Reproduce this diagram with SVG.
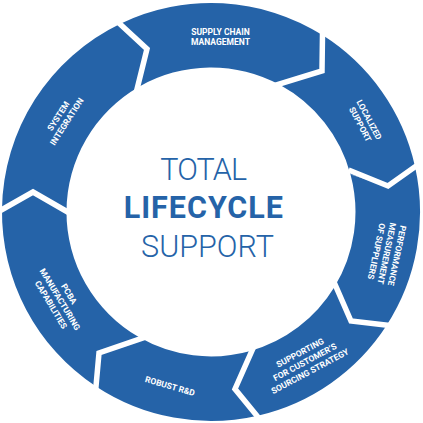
<svg xmlns="http://www.w3.org/2000/svg" width="423" height="423" viewBox="0 0 423 423">
<style>
.seg{fill:#2563a8;}
.div{fill:none;stroke:#ffffff;stroke-width:5.5;stroke-linejoin:miter;stroke-miterlimit:10;}
.lbl{font-family:Roboto,"Liberation Sans",sans-serif;font-weight:700;font-size:8.5px;fill:#ffffff;text-anchor:middle;}
.big{font-family:Roboto,"Liberation Sans",sans-serif;font-size:30.5px;fill:#2563a8;text-anchor:middle;}
</style>
<rect width="423" height="423" fill="#ffffff"/>
<g id="supply-chain">
<path class="seg" d="M120.4,23.7 A209,209 0 0 1 322.4,35.1 L322,71 L280.2,85.1 A144.5,144.5 0 0 0 139,86.7 L147,49 Z"/>
<text class="lbl" transform="translate(220.5,37)"><tspan x="0" y="-2">SUPPLY CHAIN</tspan><tspan x="0" y="8">MANAGEMENT</tspan></text>
</g>
<g id="localized-support">
<path class="seg" d="M322.4,35.1 A209,209 0 0 1 415,166.4 L388,186 L350.5,174.4 A144.5,144.5 0 0 0 280.2,85.1 L322,71 Z"/>
<text class="lbl" transform="translate(364.7,122) rotate(62)"><tspan x="0" y="-2">LOCALIZED</tspan><tspan x="0" y="8">SUPPORT</tspan></text>
</g>
<g id="performance">
<path class="seg" d="M415,166.4 A209,209 0 0 1 386.5,325.5 L351,321 L334.3,287.3 A144.5,144.5 0 0 0 350.5,174.4 L388,186 Z"/>
<text class="lbl" transform="translate(386.8,253.5) rotate(102)"><tspan x="0" y="-7.5">PERFORMANCE</tspan><tspan x="0" y="3">MEASUREMENT</tspan><tspan x="0" y="13.5">OF SUPPLIERS</tspan></text>
</g>
<g id="supporting">
<path class="seg" d="M386.5,325.5 A209,209 0 0 1 257.7,415.7 L235,389 L250.3,351 A144.5,144.5 0 0 0 334.3,287.3 L351,321 Z"/>
<text class="lbl" transform="translate(305,362) rotate(-28)"><tspan x="0" y="-7.5">SUPPORTING</tspan><tspan x="0" y="3">FOR CUSTOMER’S</tspan><tspan x="0" y="13.5">SOURCING STRATEGY</tspan></text>
</g>
<g id="robust-rd">
<path class="seg" d="M257.7,415.7 A209,209 0 0 1 95.7,386.3 L99,353 L138.75,337.1 A144.5,144.5 0 0 0 250.3,351 L235,389 Z"/>
<text class="lbl" transform="translate(170,386) rotate(16)"><tspan x="0" y="3">ROBUST R&amp;D</tspan></text>
</g>
<g id="pcba">
<path class="seg" d="M95.7,386.3 A209,209 0 0 1 2,209.1 L33,192 L66.5,211 A144.5,144.5 0 0 0 138.75,337.1 L99,353 Z"/>
<text class="lbl" transform="translate(60,299.3) rotate(59)"><tspan x="0" y="-7.5">PCBA</tspan><tspan x="0" y="3">MANUFACTURING</tspan><tspan x="0" y="13.5">CAPABILITIES</tspan></text>
</g>
<g id="system-integration">
<path class="seg" d="M2,209.1 A209,209 0 0 1 120.4,23.7 L147,49 L139,86.7 A144.5,144.5 0 0 0 66.5,211 L33,192 Z"/>
<text class="lbl" transform="translate(62.5,118.8) rotate(-57)"><tspan x="0" y="-2">SYSTEM</tspan><tspan x="0" y="8">INTEGRATION</tspan></text>
</g>
<g id="connectors">
<polyline class="div" points="115.1,19.6 147,49 136.1,92.8"/>
<polyline class="div" points="322.6,27 322,71 273.3,85.8"/>
<polyline class="div" points="422.5,161.4 388,186 348.6,170"/>
<polyline class="div" points="394,326 351,321 333.8,281.7"/>
<polyline class="div" points="263,423.2 235,389 254.2,345.7"/>
<polyline class="div" points="95.3,394 99,353 144.6,337.4"/>
<polyline class="div" points="-4,213 33,192 72.9,215"/>
</g>
<g id="center-title">
<text class="big" x="203.3" y="180" font-weight="300" letter-spacing="-0.8">TOTAL</text>
<text class="big" x="203.8" y="218.3" font-weight="700" letter-spacing="1">LIFECYCLE</text>
<text class="big" x="207.5" y="256.7" font-weight="300">SUPPORT</text>
</g>
</svg>
